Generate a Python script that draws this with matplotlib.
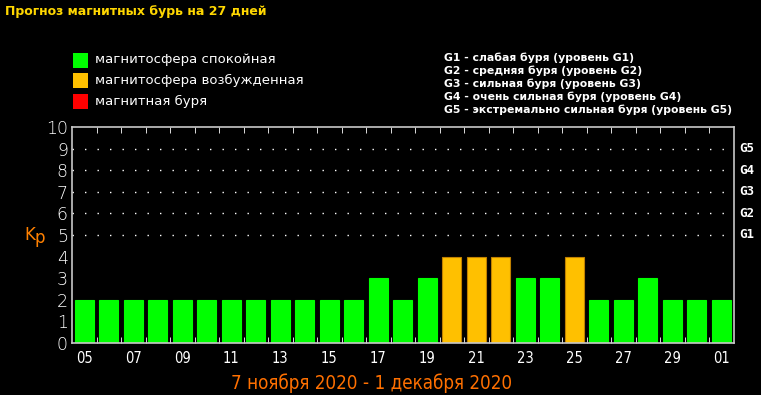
import matplotlib
matplotlib.use('Agg')
import matplotlib.pyplot as plt
from matplotlib.patches import Rectangle

# data
days = ['05', '06', '07', '08', '09', '10', '11', '12', '13', '14', '15', '16', '17', '18',
        '19', '20', '21', '22', '23', '24', '25', '26', '27', '28', '29', '30', '01']
kp = [2, 2, 2, 2, 2, 2, 2, 2, 2, 2, 2, 2, 3, 2, 3, 4, 4, 4, 3, 3, 4, 2, 2, 3, 2, 2, 2]
g_levels = ['G1', 'G2', 'G3', 'G4', 'G5']
g_kp = [5, 6, 7, 8, 9]
legend_labels = ['магнитосфера спокойная', 'магнитосфера возбужденная', 'магнитная буря']
legend_colors = ['#00ff00', '#ffc000', '#ff0000']
g_descr = ['G1 - слабая буря (уровень G1)',
           'G2 - средняя буря (уровень G2)',
           'G3 - сильная буря (уровень G3)',
           'G4 - очень сильная буря (уровень G4)',
           'G5 - экстремально сильная буря (уровень G5)']

W, H = 761, 395
fig = plt.figure(figsize=(W / 100, H / 100), dpi=100, facecolor='black')

# axes box in pixels
x0, x1, ytop, ybot = 72, 733.5, 127, 343
ax = fig.add_axes([x0 / W, (H - ybot) / H, (x1 - x0) / W, (ybot - ytop) / H])
ax.set_facecolor('black')

def bar_color(v):
    if v >= 5:
        return legend_colors[2]
    if v >= 4:
        return legend_colors[1]
    return legend_colors[0]

xs = list(range(len(days)))
cols = [bar_color(v) for v in kp]
edges = ['#c08000' if c == legend_colors[1] else c for c in cols]
ax.bar(xs, kp, width=0.78, color=cols, edgecolor=edges, linewidth=0.8, zorder=2)

ax.set_xlim(-0.5, len(days) - 0.5)
ax.set_ylim(0, 10)

# dotted guide lines
for g in g_kp:
    ax.axhline(g, color='white', linestyle=(0, (1, 8)), linewidth=1, zorder=1)

for s in ax.spines.values():
    s.set_color('#c8c8c8')
    s.set_linewidth(1.2)

ax.set_xticks(xs[::2])
ax.set_xticklabels(days[::2], color='white', fontsize=10.5, fontstretch='condensed')
ax.set_xticks([x + 0.5 for x in xs[:-1]], minor=True)
ax.tick_params(axis='x', which='major', length=0, pad=6)
ax.tick_params(axis='x', which='minor', direction='in', length=4, color='white',
               top=True, bottom=True)

ax.set_yticks(range(11))
ax.set_yticklabels([str(i) for i in range(11)], color='white', fontsize=12.5,
                   fontweight='light')
ax.tick_params(axis='y', which='major', length=0, pad=3)
ax.set_yticks([1, 2, 3, 4], minor=True)
ax.tick_params(axis='y', which='minor', left=False, right=True, direction='in',
               length=4, color='white')

# G labels on the right
for g, lab in zip(g_kp, g_levels):
    ax.text(len(days) - 0.5 + 0.25, g, lab, color='white', fontsize=9,
            fontfamily='DejaVu Sans Mono', fontweight='bold', va='center', ha='left')

# title
fig.text(5 / W, 1 - 11 / H, 'Прогноз магнитных бурь на 27 дней', color='#ffd700',
         fontsize=9, fontweight='bold', va='center', ha='left')

# legend left
for i, (lab, c) in enumerate(zip(legend_labels, legend_colors)):
    yc = 60 + i * 20.5
    fig.patches.append(Rectangle((73 / W, 1 - (yc + 7.5) / H), 15 / W, 15 / H,
                                 transform=fig.transFigure, facecolor=c, edgecolor='none'))
    fig.text(95 / W, 1 - yc / H, lab, color='white', fontsize=9.5, va='center', ha='left')

# legend right
for i, t in enumerate(g_descr):
    fig.text(444 / W, 1 - (58 + i * 13) / H, t, color='white', fontsize=7.8,
             fontweight='bold', va='center', ha='left')

# Kp label
fig.text(24 / W, 1 - 235 / H, 'K', color='#ff8000', fontsize=12, va='center', ha='left')
fig.text(35 / W, 1 - 238 / H, 'p', color='#ff8000', fontsize=12, va='center', ha='left')

# date range
fig.text(372 / W, 1 - 383 / H, '7 ноября 2020 - 1 декабря 2020', color='#ff7000',
         fontsize=13.5, fontstretch='condensed', va='center', ha='center')

fig.savefig('out.png', dpi=100, facecolor='black')
